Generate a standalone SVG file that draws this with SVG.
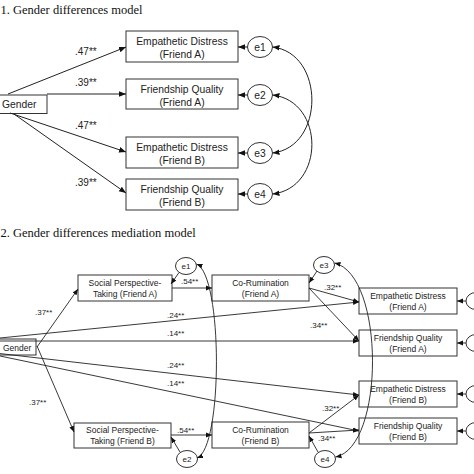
<svg xmlns="http://www.w3.org/2000/svg" width="474" height="474" viewBox="0 0 474 474">
<defs>
<style>
.bg{fill:#fff}
.box{fill:none;stroke:#333;stroke-width:1}
.ell{fill:#fff;stroke:#333;stroke-width:1}
.ln{fill:none;stroke:#222;stroke-width:1}
.ln2{fill:none;stroke:#222;stroke-width:0.9}
.title{font-family:"Liberation Serif","Times New Roman",serif;font-size:12.5px;fill:#111}
.t1{font-family:"Liberation Sans",Arial,sans-serif;font-size:10.3px;fill:#222;text-anchor:middle}
.t2{font-family:"Liberation Sans",Arial,sans-serif;font-size:8.5px;fill:#222;text-anchor:middle}
.l1{font-family:"Liberation Sans",Arial,sans-serif;font-size:10px;fill:#222}
.l2{font-family:"Liberation Sans",Arial,sans-serif;font-size:8px;fill:#222}
</style>
<marker id="ah" viewBox="0 0 10 10" refX="10" refY="5" markerWidth="7" markerHeight="7" markerUnits="userSpaceOnUse" orient="auto-start-reverse"><path d="M0,1 L10,5 L0,9 z" fill="#111"/></marker>
<marker id="ahs" viewBox="0 0 10 10" refX="10" refY="5" markerWidth="6" markerHeight="6" markerUnits="userSpaceOnUse" orient="auto-start-reverse"><path d="M0,1 L10,5 L0,9 z" fill="#111"/></marker>
</defs>
<rect class="bg" x="0" y="0" width="474" height="474"/>

<text class="title" x="0.5" y="13.5">1. Gender differences model</text>
<text class="title" x="0.5" y="237">2. Gender differences mediation model</text>

<!-- Model 1 nodes -->
<g id="m1-gender"><rect class="box" x="-5" y="95" width="52" height="18.5"/><text class="t1" x="2" y="108" style="text-anchor:start">Gender</text></g>
<g id="m1-empA"><rect class="box" x="126" y="31" width="112" height="31"/><text class="t1" x="182" y="45">Empathetic Distress</text><text class="t1" x="182" y="58">(Friend A)</text></g>
<g id="m1-fqA"><rect class="box" x="126" y="79" width="112" height="30"/><text class="t1" x="182" y="92.5">Friendship Quality</text><text class="t1" x="182" y="105.5">(Friend A)</text></g>
<g id="m1-empB"><rect class="box" x="126" y="137" width="112" height="31"/><text class="t1" x="182" y="151">Empathetic Distress</text><text class="t1" x="182" y="164">(Friend B)</text></g>
<g id="m1-fqB"><rect class="box" x="126" y="179" width="112" height="31"/><text class="t1" x="182" y="193">Friendship Quality</text><text class="t1" x="182" y="206">(Friend B)</text></g>
<g id="m1-e1"><ellipse class="ell" cx="260" cy="47" rx="12.5" ry="10.5"/><text class="t1" x="260" y="50.5">e1</text></g>
<g id="m1-e2"><ellipse class="ell" cx="260" cy="95" rx="12.5" ry="10.5"/><text class="t1" x="260" y="98.5">e2</text></g>
<g id="m1-e3"><ellipse class="ell" cx="260" cy="153" rx="12.5" ry="10.5"/><text class="t1" x="260" y="156.5">e3</text></g>
<g id="m1-e4"><ellipse class="ell" cx="260" cy="194" rx="12.5" ry="10.5"/><text class="t1" x="260" y="197.5">e4</text></g>

<!-- Model 2 nodes -->
<g id="m2-gender"><rect class="box" x="-5" y="339" width="41" height="16"/><text class="t2" x="3" y="350.5" style="text-anchor:start">Gender</text></g>
<g id="m2-sptA"><rect class="box" x="78" y="275" width="94" height="26"/><text class="t2" x="125" y="285.5">Social Perspective-</text><text class="t2" x="125" y="296.5">Taking (Friend A)</text></g>
<g id="m2-sptB"><rect class="box" x="74" y="423" width="97" height="25"/><text class="t2" x="122.5" y="433">Social Perspective-</text><text class="t2" x="122.5" y="444">Taking (Friend B)</text></g>
<g id="m2-coA"><rect class="box" x="212" y="275" width="97" height="26"/><text class="t2" x="260.5" y="285.5">Co-Rumination</text><text class="t2" x="260.5" y="296.5">(Friend A)</text></g>
<g id="m2-coB"><rect class="box" x="212" y="422" width="97" height="26"/><text class="t2" x="260.5" y="432.5">Co-Rumination</text><text class="t2" x="260.5" y="443.5">(Friend B)</text></g>
<g id="m2-empA"><rect class="box" x="359" y="288" width="98" height="26"/><text class="t2" x="408" y="298.5">Empathetic Distress</text><text class="t2" x="408" y="309.5">(Friend A)</text></g>
<g id="m2-fqA"><rect class="box" x="359" y="330" width="98" height="26"/><text class="t2" x="408" y="340.5">Friendship Quality</text><text class="t2" x="408" y="351.5">(Friend A)</text></g>
<g id="m2-empB"><rect class="box" x="359" y="381" width="98" height="26"/><text class="t2" x="408" y="391.5">Empathetic Distress</text><text class="t2" x="408" y="402.5">(Friend B)</text></g>
<g id="m2-fqB"><rect class="box" x="359" y="418" width="98" height="26"/><text class="t2" x="408" y="428.5">Friendship Quality</text><text class="t2" x="408" y="439.5">(Friend B)</text></g>
<g id="m2-e1"><ellipse class="ell" cx="186" cy="266" rx="10.5" ry="8.5"/><text class="l2" x="186" y="269" style="text-anchor:middle">e1</text></g>
<g id="m2-e2"><ellipse class="ell" cx="187" cy="459" rx="10.5" ry="8.5"/><text class="l2" x="187" y="462" style="text-anchor:middle">e2</text></g>
<g id="m2-e3"><ellipse class="ell" cx="324" cy="265" rx="10.5" ry="8.5"/><text class="l2" x="324" y="268" style="text-anchor:middle">e3</text></g>
<g id="m2-e4"><ellipse class="ell" cx="325" cy="459" rx="10.5" ry="8.5"/><text class="l2" x="325" y="462" style="text-anchor:middle">e4</text></g>
<g id="m2-e5"><ellipse class="ell" cx="476" cy="301" rx="10" ry="8.5"/></g>
<g id="m2-e6"><ellipse class="ell" cx="476" cy="343" rx="10" ry="8.5"/></g>
<g id="m2-e7"><ellipse class="ell" cx="476" cy="394" rx="10" ry="8.5"/></g>
<g id="m2-e8"><ellipse class="ell" cx="476" cy="431" rx="10" ry="8.5"/></g>

<!-- Connectors -->
<g id="connectors">
<path class="ln" d="M8,94 L126,47" marker-end="url(#ah)"/>
<path class="ln" d="M47,94 L126,94" marker-end="url(#ah)"/>
<path class="ln" d="M10,113 L126,152" marker-end="url(#ah)"/>
<path class="ln" d="M14,114 L126,193" marker-end="url(#ah)"/>
<path class="ln" d="M247.5,47 L238,47" marker-end="url(#ah)"/>
<path class="ln" d="M247.5,95 L238,95" marker-end="url(#ah)"/>
<path class="ln" d="M247.5,153 L238,153" marker-end="url(#ah)"/>
<path class="ln" d="M247.5,194 L238,194" marker-end="url(#ah)"/>
<path class="ln" d="M272.5,47 C325,53 325,147 272.5,153" marker-start="url(#ah)" marker-end="url(#ah)"/>
<path class="ln" d="M272.5,95 C325,101 325,188 272.5,194" marker-start="url(#ah)" marker-end="url(#ah)"/>

<path class="ln2" d="M37,347 L78,289" marker-end="url(#ahs)"/>
<path class="ln2" d="M37,346 L74,432" marker-end="url(#ahs)"/>
<path class="ln2" d="M-5,338.5 L359,302" marker-end="url(#ahs)"/>
<path class="ln2" d="M-5,341 L359,341" marker-end="url(#ahs)"/>
<path class="ln2" d="M-5,353 L359,395" marker-end="url(#ahs)"/>
<path class="ln2" d="M0,356 L359,431" marker-end="url(#ahs)"/>
<path class="ln2" d="M172,288 L212,288" marker-end="url(#ahs)"/>
<path class="ln2" d="M171,435 L212,435" marker-end="url(#ahs)"/>
<path class="ln2" d="M179,272.5 L171,284" marker-end="url(#ahs)"/>
<path class="ln2" d="M180,452 L171,437" marker-end="url(#ahs)"/>
<path class="ln2" d="M317,271 L309,283" marker-end="url(#ahs)"/>
<path class="ln2" d="M318,452 L309,436" marker-end="url(#ahs)"/>
<path class="ln2" d="M309,288 L359,302" marker-end="url(#ahs)"/>
<path class="ln2" d="M309,288 L359,341" marker-end="url(#ahs)"/>
<path class="ln2" d="M309,433 L359,395" marker-end="url(#ahs)"/>
<path class="ln2" d="M309,433 L359,430" marker-end="url(#ahs)"/>
<path class="ln2" d="M466,301 L457,301" marker-end="url(#ahs)"/>
<path class="ln2" d="M466,343 L457,343" marker-end="url(#ahs)"/>
<path class="ln2" d="M466,394 L457,394" marker-end="url(#ahs)"/>
<path class="ln2" d="M466,431 L457,431" marker-end="url(#ahs)"/>
<path class="ln2" d="M196.5,264 C223,275 223,448 197,458" marker-start="url(#ahs)" marker-end="url(#ahs)"/>
<path class="ln2" d="M334.5,263 C385,275 385,447 335.5,457" marker-start="url(#ahs)" marker-end="url(#ahs)"/>
</g>

<!-- Path labels -->
<g id="labels">
<text class="l1" x="75" y="55">.47**</text>
<text class="l1" x="75" y="86">.39**</text>
<text class="l1" x="75" y="129">.47**</text>
<text class="l1" x="75" y="186">.39**</text>
<text class="l2" x="35" y="315">.37**</text>
<text class="l2" x="167" y="318">.24**</text>
<text class="l2" x="167" y="336">.14**</text>
<text class="l2" x="181" y="284">.54**</text>
<text class="l2" x="324" y="290">.32**</text>
<text class="l2" x="310" y="328">.34**</text>
<text class="l2" x="167" y="368">.24**</text>
<text class="l2" x="167" y="386">.14**</text>
<text class="l2" x="29" y="405">.37**</text>
<text class="l2" x="177" y="433">.54**</text>
<text class="l2" x="322" y="411">.32**</text>
<text class="l2" x="318" y="441">.34**</text>
</g>
</svg>
